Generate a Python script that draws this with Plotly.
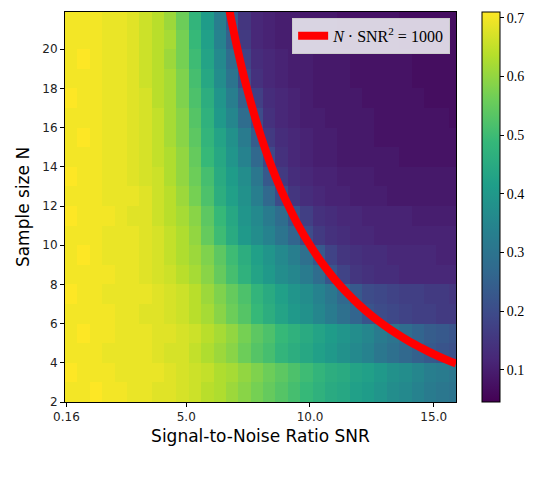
import plotly.graph_objects as go

# SNR cell centres (step 0.5) and sample size rows
snr = [0.35, 0.85, 1.35, 1.85, 2.35, 2.85, 3.35, 3.85, 4.35, 4.85, 5.35, 5.85, 6.35, 6.85, 7.35, 7.85,
       8.35, 8.85, 9.35, 9.85, 10.35, 10.85, 11.35, 11.85, 12.35, 12.85, 13.35, 13.85, 14.35, 14.85, 15.35, 15.85]
sample_n = [2.5, 3.5, 4.5, 5.5, 6.5, 7.5, 8.5, 9.5, 10.5, 11.5,
            12.5, 13.5, 14.5, 15.5, 16.5, 17.5, 18.5, 19.5, 20.5, 21.5]

# valori, un rand pentru fiecare N
z_n2_5 = [.70, .70, .71, .70, .70, .69, .69, .68, .68, .67, .66, .64, .63, .61, .59, .57, .55, .53, .51, .49, .47, .45, .44, .42, .41, .39, .37, .36, .34, .32, .31, .30]
z_n3_5 = [.71, .70, .70, .70, .69, .69, .69, .69, .68, .67, .66, .65, .63, .62, .60, .58, .56, .54, .52, .50, .48, .46, .45, .43, .42, .40, .38, .37, .35, .33, .32, .31]
z_n4_5 = [.70, .70, .70, .69, .69, .69, .69, .68, .67, .67, .65, .63, .61, .59, .56, .53, .51, .48, .46, .44, .42, .40, .38, .36, .34, .31, .29, .27, .25, .23, .22, .21]
z_n5_5 = [.70, .71, .70, .70, .69, .69, .69, .68, .68, .67, .66, .64, .62, .60, .57, .54, .52, .49, .47, .45, .43, .41, .39, .37, .35, .32, .30, .28, .26, .24, .23, .22]
z_n6_5 = [.70, .70, .70, .70, .69, .69, .68, .68, .67, .66, .64, .62, .59, .56, .53, .49, .46, .43, .40, .38, .35, .32, .29, .26, .22, .20, .19, .18, .17, .17, .16, .16]
z_n7_5 = [.71, .70, .70, .69, .69, .69, .69, .68, .67, .66, .64, .61, .58, .55, .52, .48, .45, .42, .39, .37, .34, .31, .27, .23, .20, .19, .18, .17, .17, .16, .16, .15]
z_n8_5 = [.70, .70, .70, .70, .69, .69, .68, .67, .66, .64, .62, .59, .55, .51, .47, .43, .40, .37, .35, .32, .28, .22, .18, .15, .14, .13, .13, .12, .12, .12, .12, .12]
z_n9_5 = [.70, .71, .70, .69, .69, .69, .68, .67, .65, .63, .61, .58, .54, .50, .46, .42, .39, .36, .33, .29, .23, .18, .15, .14, .13, .13, .12, .12, .12, .12, .11, .11]
z_n10_5 = [.70, .70, .70, .69, .69, .69, .68, .67, .65, .63, .60, .55, .50, .45, .40, .37, .34, .30, .26, .20, .16, .14, .13, .12, .12, .11, .11, .11, .11, .11, .11, .11]
z_n11_5 = [.71, .70, .70, .70, .69, .68, .68, .66, .64, .62, .59, .54, .49, .44, .39, .36, .32, .28, .22, .17, .14, .13, .12, .12, .11, .11, .11, .11, .10, .10, .10, .10]
z_n12_5 = [.70, .70, .70, .69, .69, .69, .68, .66, .64, .61, .57, .52, .46, .42, .38, .33, .27, .20, .15, .13, .12, .11, .11, .10, .10, .10, .09, .09, .09, .09, .09, .09]
z_n13_5 = [.71, .70, .70, .69, .69, .68, .67, .66, .63, .60, .56, .51, .45, .41, .37, .31, .23, .16, .13, .12, .11, .11, .10, .10, .10, .09, .09, .09, .09, .09, .09, .09]
z_n14_5 = [.70, .70, .70, .69, .69, .68, .67, .65, .63, .60, .55, .49, .44, .39, .34, .27, .19, .14, .12, .11, .10, .10, .09, .09, .09, .09, .09, .08, .08, .08, .08, .08]
z_n15_5 = [.70, .71, .70, .69, .69, .68, .67, .65, .62, .59, .54, .48, .43, .38, .32, .24, .16, .13, .12, .11, .10, .10, .09, .09, .09, .08, .08, .08, .08, .08, .08, .08]
z_n16_5 = [.70, .70, .70, .69, .69, .68, .67, .65, .62, .59, .53, .47, .40, .35, .28, .20, .14, .12, .11, .10, .10, .09, .09, .09, .09, .08, .08, .08, .08, .08, .08, .07]
z_n17_5 = [.71, .70, .70, .69, .69, .68, .67, .64, .62, .58, .52, .46, .39, .33, .25, .17, .13, .12, .11, .10, .09, .09, .09, .09, .08, .08, .08, .08, .08, .07, .07, .07]
z_n18_5 = [.70, .70, .70, .69, .69, .68, .66, .64, .62, .58, .51, .44, .37, .30, .20, .14, .12, .11, .10, .10, .09, .09, .09, .08, .08, .08, .08, .08, .07, .07, .07, .07]
z_n19_5 = [.70, .71, .70, .69, .69, .68, .66, .64, .61, .57, .50, .43, .36, .28, .18, .13, .12, .11, .10, .10, .09, .09, .09, .08, .08, .08, .08, .08, .07, .07, .07, .07]
z_n20_5 = [.70, .70, .70, .69, .69, .68, .66, .64, .62, .57, .49, .42, .34, .25, .16, .12, .11, .10, .10, .09, .09, .09, .08, .08, .08, .08, .08, .07, .07, .07, .07, .07]
z_n21_5 = [.70, .70, .70, .69, .69, .68, .66, .64, .61, .56, .48, .41, .33, .23, .15, .12, .11, .10, .10, .09, .09, .09, .08, .08, .08, .08, .08, .07, .07, .07, .07, .07]

z_rows = [z_n2_5, z_n3_5, z_n4_5, z_n5_5, z_n6_5, z_n7_5, z_n8_5, z_n9_5, z_n10_5, z_n11_5,
          z_n12_5, z_n13_5, z_n14_5, z_n15_5, z_n16_5, z_n17_5, z_n18_5, z_n19_5, z_n20_5, z_n21_5]

# curba N * SNR^2 = 1000
curve_snr = [6.74, 6.85, 7.0, 7.25, 7.5, 7.75, 8.0, 8.25, 8.5, 8.75, 9.0, 9.5, 10.0, 10.5,
             11.0, 11.5, 12.0, 12.5, 13.0, 13.5, 14.0, 14.5, 15.0, 15.5, 15.9]
curve_n = [22.01, 21.31, 20.41, 19.02, 17.78, 16.65, 15.63, 14.69, 13.84, 13.06, 12.35, 11.08, 10.0, 9.07,
           8.26, 7.56, 6.94, 6.40, 5.92, 5.49, 5.10, 4.76, 4.44, 4.16, 3.96]

xtick_vals = [0.16, 5, 10, 15]
xtick_text = ["0.16", "5.0", "10.0", "15.0"]
ytick_vals = [2, 4, 6, 8, 10, 12, 14, 16, 18, 20]
cbar_ticks = [0.1, 0.2, 0.3, 0.4, 0.5, 0.6, 0.7]

fig = go.Figure()

fig.add_trace(go.Heatmap(
    x=snr, y=sample_n, z=z_rows,
    colorscale="Viridis", zmin=0.045, zmax=0.71,
    showscale=True,
    colorbar=dict(
        x=1.066, xanchor="left", xpad=0, y=0.5, yanchor="middle",
        len=1.0, lenmode="fraction", thickness=18, ypad=0,
        outlinewidth=1, outlinecolor="black",
        ticks="outside", ticklen=4, tickcolor="black",
        tickvals=cbar_ticks, ticktext=[str(t) for t in cbar_ticks],
        tickfont=dict(family="Liberation Serif", size=14, color="black"),
    ),
    hoverinfo="skip",
))

fig.add_trace(go.Scatter(
    x=curve_snr, y=curve_n, mode="lines", line_shape="spline",
    line=dict(color="red", width=8),
    name="<i>N</i> · SNR<sup>2</sup> = 1000",
))

# pagina are 8px margine implicita, deci figura e putin mai mica
fig.update_layout(
    width=526, height=472,
    margin=dict(l=57, r=78, t=4, b=78, autoexpand=False),
    plot_bgcolor="white", paper_bgcolor="white",
    showlegend=True,
    legend=dict(
        x=0.985, y=0.985, xanchor="right", yanchor="top",
        bgcolor="rgba(238,238,242,0.88)", bordercolor="#cccccc", borderwidth=1,
        font=dict(family="Liberation Serif", size=16, color="black"),
    ),
)

fig.update_xaxes(
    range=[0.10, 15.9], tickvals=xtick_vals, ticktext=xtick_text,
    ticks="outside", ticklen=4, tickcolor="black",
    showline=True, linecolor="black", linewidth=1, mirror=True,
    showgrid=False, zeroline=False,
    tickfont=dict(family="DejaVu Sans", size=12, color="#222222"),
    title=dict(text="Signal-to-Noise Ratio SNR", font=dict(family="DejaVu Sans", size=17, color="black"), standoff=6),
)
fig.update_yaxes(
    range=[2, 21.9], tickvals=ytick_vals,
    ticks="outside", ticklen=4, tickcolor="black",
    showline=True, linecolor="black", linewidth=1, mirror=True,
    showgrid=False, zeroline=False,
    tickfont=dict(family="DejaVu Sans", size=12, color="#222222"),
    title=dict(text="Sample size N", font=dict(family="DejaVu Sans", size=17, color="black"), standoff=8),
)

fig.write_html("out.html")
